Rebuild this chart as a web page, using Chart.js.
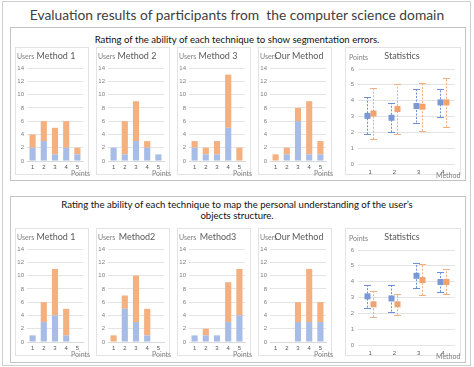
<!DOCTYPE html>
<html>
<head>
<meta charset="utf-8">
<script src="https://cdn.jsdelivr.net/npm/chart.js@4.4.1/dist/chart.umd.min.js"></script>
<style>
  body { margin: 0; background: #fff; font-family: Lato, "Open Sans", sans-serif; }
  #fig { position: relative; width: 474px; height: 367px; overflow: hidden; }
  .frame { position: absolute; left: 2px; top: 1px; width: 467px; height: 363px; border: 1px solid #cfcfcf; }
  .section { position: absolute; left: 10px; width: 454px; border: 1px solid #c4c4c4; }
  .panel { position: absolute; border: 1px solid #e3e3e3; }
  .panel canvas { position: absolute; left: 0; top: 0; }
  .txt { position: absolute; white-space: nowrap; }
  .main { left: 0; width: 474px; top: 6px; text-align: center; font-size: 13.8px; color: #404040; }
  .head { left: 0; width: 474px; text-align: center; font-size: 9.6px; color: #111; }
  .users { font-size: 7px; color: #7f7f7f; }
  .ttl { font-size: 9px; color: #595959; text-align: center; }
</style>
</head>
<body>
<div id="fig">
  <div class="frame"></div>
  <div class="txt main">Evaluation results of participants from&nbsp; the computer science domain</div>
  <div class="section" style="top:27px;height:152px;"></div>
  <div class="section" style="top:196px;height:165px;"></div>
  <div class="txt head" style="top:34px;">Rating of the ability of each technique to show segmentation errors.</div>
  <div class="txt head" style="top:199px;line-height:11px;">Rating the ability of each technique to map the personal understanding of the user’s<br>objects structure.</div>
</div>

<script>
// -----------------------------
// Data
// -----------------------------
const points = ["1", "2", "3", "4", "5"];
const methods = ["1", "2", "3", "4"];

// Row 1: show segmentation errors (blue = bottom part, orange = top part)
const segTitles = ["Method 1", "Method 2", "Method 3", "Our Method"];
const segBlue = [
  [2, 3, 1, 2, 1],
  [2, 1, 3, 2, 1],
  [2, 1, 1, 5, 0],
  [0, 1, 6, 1, 1]
];
const segOrange = [
  [2, 3, 4, 4, 1],
  [0, 5, 6, 1, 0],
  [1, 1, 2, 8, 2],
  [1, 1, 2, 8, 2]
];
const segStatBlueMean = [3.04, 2.92, 3.66, 3.89];
const segStatBlueLow = [1.88, 2.0, 2.62, 2.98];
const segStatBlueHigh = [4.25, 3.83, 4.74, 4.74];
const segStatOrangeMean = [3.19, 3.47, 3.62, 3.89];
const segStatOrangeLow = [1.56, 1.88, 2.09, 2.35];
const segStatOrangeHigh = [4.78, 5.03, 5.14, 5.41];

// Row 2: map the personal understanding of the objects structure
const mapTitles = ["Method 1", "Method2", "Method3", "Our Method"];
const mapBlue = [
  [1, 3, 4, 1, 0],
  [0, 5, 3, 1, 0],
  [1, 1, 1, 3, 4],
  [0, 0, 3, 3, 3]
];
const mapOrange = [
  [0, 3, 7, 4, 0],
  [1, 2, 7, 4, 0],
  [0, 1, 0, 6, 7],
  [0, 0, 3, 8, 3]
];
const mapStatBlueMean = [3.07, 2.94, 4.37, 3.98];
const mapStatBlueLow = [2.36, 2.11, 3.59, 3.35];
const mapStatBlueHigh = [3.76, 3.78, 5.17, 4.62];
const mapStatOrangeMean = [2.57, 2.57, 4.1, 3.98];
const mapStatOrangeLow = [1.75, 1.91, 3.14, 3.2];
const mapStatOrangeHigh = [3.43, 3.24, 5.09, 4.78];

// -----------------------------
// Styles
// -----------------------------
const BLUE = "#a7bde8";
const ORANGE = "#f5b080";
const BLUE_DARK = "#7a98d6";
const ORANGE_DARK = "#f2a26c";
const GRID = "#e4e4e4";
const TICK = "#7f7f7f";

const fig = document.getElementById("fig");

function makePanel(left, top, width, height) {
  const div = document.createElement("div");
  div.className = "panel";
  div.style.left = left + "px";
  div.style.top = top + "px";
  div.style.width = (width - 2) + "px";
  div.style.height = (height - 2) + "px";
  const canvas = document.createElement("canvas");
  canvas.width = width - 2;
  canvas.height = height - 2;
  div.appendChild(canvas);
  fig.appendChild(div);
  return canvas;
}

function addText(cls, text, left, top, width) {
  const el = document.createElement("div");
  el.className = "txt " + cls;
  el.textContent = text;
  el.style.left = left + "px";
  el.style.top = top + "px";
  if (width) el.style.width = width + "px";
  fig.appendChild(el);
}

// -----------------------------
// Stacked bar chart per method
// -----------------------------
function barChart(canvas, blue, orange) {
  new Chart(canvas, {
    type: "bar",
    data: {
      labels: points,
      datasets: [
        { data: blue, backgroundColor: BLUE, barPercentage: 0.55, categoryPercentage: 1 },
        { data: orange, backgroundColor: ORANGE, barPercentage: 0.55, categoryPercentage: 1 }
      ]
    },
    options: {
      responsive: false,
      animation: false,
      layout: { padding: { top: 20, right: 5, left: 0, bottom: 0 } },
      plugins: { legend: { display: false }, tooltip: { enabled: false } },
      scales: {
        x: {
          stacked: true,
          grid: { display: false, drawTicks: false },
          border: { color: "#d9d9d9" },
          ticks: { font: { size: 6 }, color: "#595959", padding: 3, maxRotation: 0, minRotation: 0, autoSkip: false },
          afterFit(s) { s.height = 13; }
        },
        y: {
          stacked: true,
          min: 0,
          max: 14,
          ticks: { stepSize: 2, font: { size: 6 }, color: TICK, padding: 3 },
          grid: { color: GRID, drawTicks: false },
          border: { display: false },
          afterFit(s) { s.width = 11; }
        }
      }
    }
  });
}

// -----------------------------
// Statistics chart (mean + min/max whiskers)
// -----------------------------
const errorBars = {
  id: "errorBars",
  afterDatasetsDraw(chart) {
    const { ctx, scales: { x, y } } = chart;
    chart.data.datasets.forEach((ds, d) => {
      const off = d === 0 ? -3 : 3;
      ds.data.forEach((m, i) => {
        const px = Math.round(x.getPixelForValue(i) + off) + 0.5;
        const yLo = y.getPixelForValue(ds.low[i]);
        const yHi = y.getPixelForValue(ds.high[i]);
        const yM = y.getPixelForValue(m);
        ctx.save();
        ctx.strokeStyle = ds.whisker;
        ctx.lineWidth = 1;
        ctx.setLineDash([2, 1.5]);
        ctx.beginPath();
        ctx.moveTo(px, yLo);
        ctx.lineTo(px, yHi);
        ctx.stroke();
        ctx.setLineDash([]);
        ctx.beginPath();
        ctx.moveTo(px - 3.5, Math.round(yLo) + 0.5);
        ctx.lineTo(px + 3.5, Math.round(yLo) + 0.5);
        ctx.moveTo(px - 3.5, Math.round(yHi) + 0.5);
        ctx.lineTo(px + 3.5, Math.round(yHi) + 0.5);
        ctx.stroke();
        ctx.fillStyle = ds.marker;
        ctx.fillRect(px - 3, yM - 3, 6, 6);
        ctx.restore();
      });
    });
  }
};

function statChart(canvas, bMean, bLow, bHigh, oMean, oLow, oHigh) {
  new Chart(canvas, {
    type: "line",
    data: {
      labels: methods,
      datasets: [
        { data: bMean, low: bLow, high: bHigh, marker: BLUE_DARK, whisker: "#6f8fd3", showLine: false, pointRadius: 0 },
        { data: oMean, low: oLow, high: oHigh, marker: ORANGE_DARK, whisker: "#f4ad7c", showLine: false, pointRadius: 0 }
      ]
    },
    options: {
      responsive: false,
      animation: false,
      layout: { padding: { top: 21, right: 5, left: 0, bottom: 0 } },
      plugins: { legend: { display: false }, tooltip: { enabled: false } },
      scales: {
        x: {
          offset: true,
          grid: { display: false, drawTicks: false },
          border: { display: false },
          ticks: { font: { size: 6 }, color: "#595959", padding: 5, maxRotation: 0, minRotation: 0, autoSkip: false },
          afterFit(s) { s.height = 10; }
        },
        y: {
          min: 0,
          max: 6,
          ticks: { stepSize: 1, font: { size: 6 }, color: TICK, padding: 4 },
          grid: { color: GRID, drawTicks: false },
          border: { display: false },
          afterFit(s) { s.width = 12; }
        }
      }
    },
    plugins: [errorBars]
  });
}

// -----------------------------
// Build both rows
// -----------------------------
const panelLefts = [15, 96, 177, 258];
const rows = [
  { top: 47, titles: segTitles, blue: segBlue, orange: segOrange,
    stat: [segStatBlueMean, segStatBlueLow, segStatBlueHigh, segStatOrangeMean, segStatOrangeLow, segStatOrangeHigh] },
  { top: 228, titles: mapTitles, blue: mapBlue, orange: mapOrange,
    stat: [mapStatBlueMean, mapStatBlueLow, mapStatBlueHigh, mapStatOrangeMean, mapStatOrangeLow, mapStatOrangeHigh] }
];

rows.forEach(row => {
  row.titles.forEach((t, i) => {
    const left = panelLefts[i];
    barChart(makePanel(left, row.top, 74, 128), row.blue[i], row.orange[i]);
    addText("users", "Users", left + 2, row.top + 5);
    addText("ttl", t, left + 12, row.top + 3, 58);
    addText("users", "Points", left + 56, row.top + 122);
  });
  statChart(makePanel(345, row.top, 116, 128), ...row.stat);
  addText("users", "Points", 349, row.top + 6);
  addText("ttl", "Statistics", 372, row.top + 3, 60);
  addText("users", "Method", 436, row.top + 124);
});
</script>
</body>
</html>
